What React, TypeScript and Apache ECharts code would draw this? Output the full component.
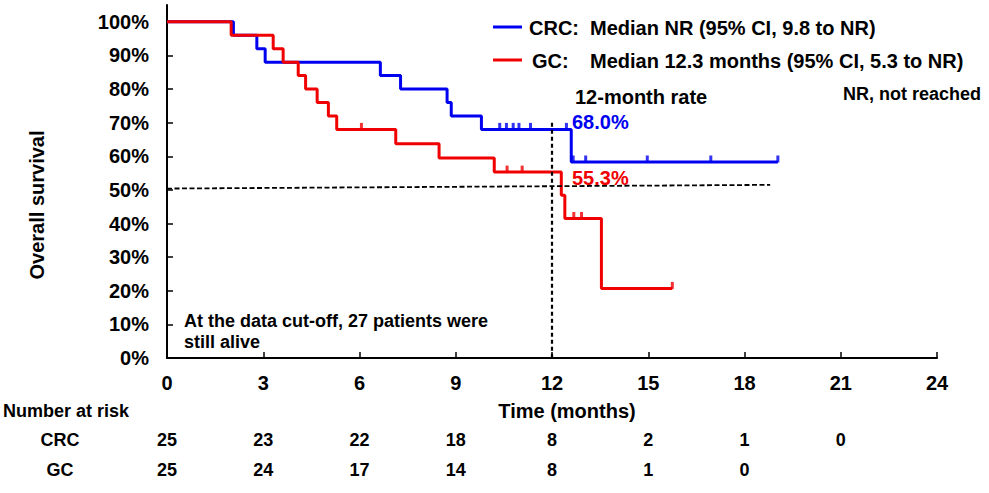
import React, { useEffect, useRef } from "react";
import * as echarts from "echarts";

// ---- data ----
const monthTicks = [0, 3, 6, 9, 12, 15, 18, 21, 24];
const yTicks = [0, 10, 20, 30, 40, 50, 60, 70, 80, 90, 100];

const crcTimes = [0, 2.07, 2.8, 3.06, 6.65, 7.28, 8.73, 8.86, 9.8, 12.6, 19.04];
const crcSurv = [100, 96, 92, 88, 84, 80, 76, 72, 68, 58.3, 58.3];
const crcCensorTimes = [10.37, 10.58, 10.79, 10.97, 11.33, 12.45, 12.66, 13.05, 14.97, 16.95, 19.04];
const crcCensorSurv = [68, 68, 68, 68, 68, 68, 58.3, 58.3, 58.3, 58.3, 58.3];

const gcTimes = [0, 2.0, 3.31, 3.62, 4.09, 4.32, 4.68, 5.03, 5.29, 7.13, 8.48, 10.2, 12.29, 12.4, 13.54, 15.75];
const gcSurv = [100, 96, 92, 88, 84, 80, 76, 72, 68, 63.75, 59.5, 55.3, 48.4, 41.5, 20.7, 20.7];
const gcCensorTimes = [6.06, 10.6, 11.07, 12.68, 12.92, 15.75];
const gcCensorSurv = [68, 55.3, 55.3, 41.5, 41.5, 20.7];

const riskCRC = [25, 23, 22, 18, 8, 2, 1, 0];
const riskGC = [25, 24, 17, 14, 8, 1, 0];

const rate12CRC = "68.0%";
const rate12GC = "55.3%";

const BLUE = "#0000f0";
const RED = "#f00000";
const FONT = "'Liberation Sans', Arial, Helvetica, sans-serif";

const zip = (a: number[], b: number[]) => a.map((v, i) => [v, b[i]]);

export default function App() {
  const ref = useRef<HTMLDivElement>(null);
  useEffect(() => {
    if (!ref.current) return;
    const chart = echarts.init(ref.current, undefined, { renderer: "svg" });
    const txt = (text: string, x: number, y: number, size: number, opts: any = {}) => ({
      type: "text",
      x,
      y,
      rotation: opts.rotation || 0,
      style: {
        text,
        fill: opts.fill || "#000",
        fontSize: size,
        fontWeight: "bold",
        fontFamily: FONT,
        align: opts.align || "left",
        verticalAlign: "middle",
        lineHeight: opts.lineHeight,
      },
    });
    const riskAxis = (offset: number, counts: number[]) => ({
      type: "value",
      gridIndex: 0,
      position: "bottom",
      offset,
      min: 0,
      max: 24,
      interval: 3,
      axisLine: { show: false },
      axisTick: { show: false },
      splitLine: { show: false },
      axisLabel: {
        margin: 16,
        fontSize: 18,
        fontWeight: "bold",
        fontFamily: FONT,
        color: "#000",
        formatter: (v: number) => {
          const i = monthTicks.indexOf(v);
          return i >= 0 && counts[i] !== undefined ? String(counts[i]) : "";
        },
      },
    });
    chart.setOption({
      animation: false,
      grid: { left: 167, right: 52, top: 5, bottom: 135, containLabel: false, outerBoundsMode: "none" },
      xAxis: [
        {
          type: "value",
          min: 0,
          max: 24,
          interval: 3,
          axisLine: { lineStyle: { color: "#000", width: 2 } },
          axisTick: { inside: true, length: 6, lineStyle: { color: "#000", width: 1.5 } },
          splitLine: { show: false },
          axisLabel: {
            margin: 15,
            fontSize: 20,
            fontWeight: "bold",
            fontFamily: FONT,
            color: "#000",
            formatter: (v: number) => (monthTicks.includes(v) ? String(v) : ""),
          },
        },
        riskAxis(57, riskCRC),
        riskAxis(87, riskGC),
      ],
      yAxis: {
        type: "value",
        min: 0,
        max: 105,
        interval: 10,
        axisLine: { lineStyle: { color: "#000", width: 2 } },
        axisTick: { inside: true, length: 6, lineStyle: { color: "#000", width: 1.5 }, customValues: yTicks },
        splitLine: { show: false },
        axisLabel: {
          margin: 18,
          fontSize: 20,
          fontWeight: "bold",
          fontFamily: FONT,
          color: "#000",
          customValues: yTicks,
          formatter: (v: number) => (v <= 100 ? v + "%" : ""),
        },
      },
      series: [
        {
          type: "line",
          step: "end",
          data: zip(crcTimes, crcSurv),
          symbol: "none",
          lineStyle: { color: BLUE, width: 3 },
          z: 2,
        },
        {
          type: "scatter",
          data: zip(crcCensorTimes, crcCensorSurv),
          symbol: "rect",
          symbolSize: [3, 7],
          symbolOffset: [0, -3],
          itemStyle: { color: BLUE },
          z: 2,
        },
        {
          type: "line",
          step: "end",
          data: zip(gcTimes, gcSurv),
          symbol: "none",
          lineStyle: { color: RED, width: 3 },
          z: 3,
          markLine: {
            silent: true,
            symbol: ["none", "none"],
            label: { show: false },
            data: [
              [
                { coord: [0, 50.4], lineStyle: { color: "#000", width: 1.8, type: [5, 2.5] } },
                { coord: [18.8, 51.5] },
              ],
              [
                { coord: [12, 70], lineStyle: { color: "#000", width: 2.2, type: [4, 3] } },
                { coord: [12, 0] },
              ],
            ],
          },
        },
        {
          type: "scatter",
          data: zip(gcCensorTimes, gcCensorSurv),
          symbol: "rect",
          symbolSize: [3, 7],
          symbolOffset: [0, -3],
          itemStyle: { color: RED },
          z: 3,
        },
      ],
      graphic: [
        { type: "line", shape: { x1: 493, y1: 27, x2: 522, y2: 27 }, style: { stroke: BLUE, lineWidth: 3 } },
        { type: "line", shape: { x1: 493, y1: 60, x2: 522, y2: 60 }, style: { stroke: RED, lineWidth: 3 } },
        txt("CRC:", 529, 28, 20),
        txt("Median NR (95% CI, 9.8 to NR)", 590, 28, 20),
        txt("GC:", 532, 61, 20),
        txt("Median 12.3 months (95% CI, 5.3 to NR)", 590, 61, 20),
        txt("12-month rate", 575, 97, 20),
        txt("NR, not reached", 843, 94, 18),
        txt(rate12CRC, 572, 122, 20, { fill: BLUE }),
        txt(rate12GC, 572, 178, 20, { fill: RED }),
        txt("At the data cut-off, 27 patients were\nstill alive", 184, 331, 18, { lineHeight: 21 }),
        txt("Overall survival", 37, 205, 20, { rotation: Math.PI / 2, align: "center" }),
        txt("Time (months)", 567, 411, 20, { align: "center" }),
        txt("Number at risk", 3, 411, 18),
        txt("CRC", 60, 440, 18, { align: "center" }),
        txt("GC", 60, 470, 18, { align: "center" }),
      ],
    });
    return () => chart.dispose();
  }, []);
  return (
    <div
      ref={ref}
      style={{ position: "fixed", left: 0, top: 0, width: 989, height: 493, background: "#fff" }}
    />
  );
}
